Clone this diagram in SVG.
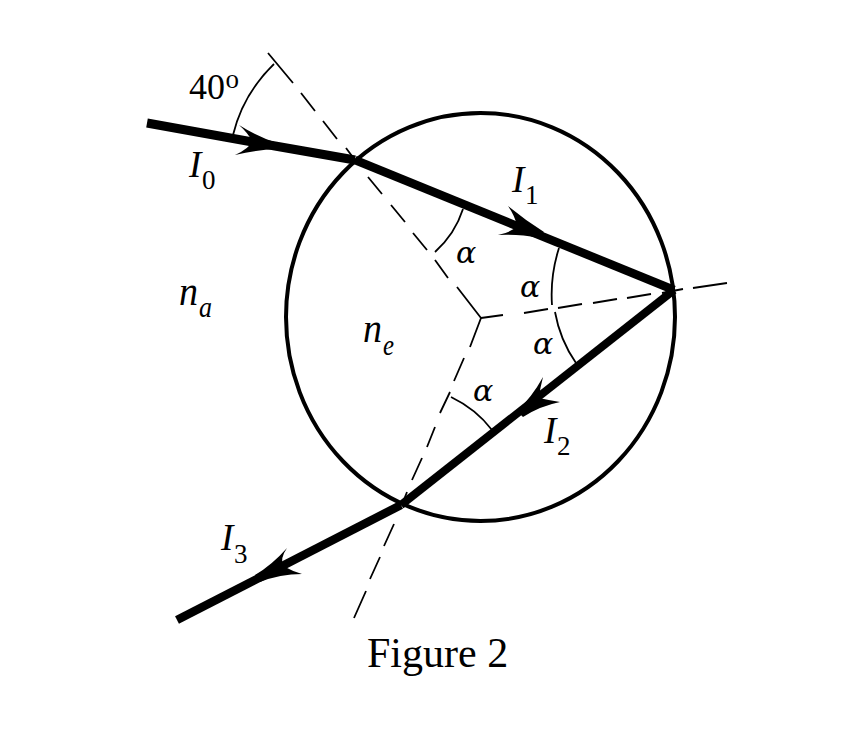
<svg xmlns="http://www.w3.org/2000/svg" width="850" height="744" viewBox="0 0 850 744">
<style>
text{font-family:"Liberation Serif","Times New Roman",serif;fill:#000}
.i{font-style:italic}
.a{font-family:"DejaVu Serif","Liberation Serif",serif;font-style:italic;font-size:30px}
.thin{fill:none;stroke:#000;stroke-width:1.8}
.ray{fill:none;stroke:#000;stroke-linejoin:miter}
.head{fill:#000;stroke:none}
</style>
<rect width="850" height="744" fill="#fff"/>
<g id="sphere"><ellipse cx="480.5" cy="317" rx="194.5" ry="204" fill="none" stroke="#000" stroke-width="4"/></g>
<g id="connectors">
<path id="normal-1" class="thin" d="M268 53L293 83M301 93L315 111M323 121L337 139M346 148L355 160M368 177L382 194M391 205L405 222M413 233L427 250M435 260L448 278M457 287L481 318"/>
<path id="normal-2" class="thin" d="M481 318L503 315M524 313L548 309M558 308L582 304M593 303L617 299M627 298L651 294M662 293L683 289M693 288L727 283"/>
<path id="normal-3" class="thin" d="M481 318L470 347M464 358L454 381M450 392L440 413M435 427L427 447M422 458L412 480M407 492L403 502M394 524L384 546M380 557L370 579M366 591L354 618"/>
<path id="arc-40" class="thin" d="M233 135Q243 94 274 64"/>
<path id="arc-a1" class="thin" d="M463 209Q455 234 435 252"/>
<path id="arc-a2" class="thin" d="M559 248Q550 276 552 305"/>
<path id="arc-a3" class="thin" d="M555 312Q560 340 576 363"/>
<path id="arc-a4" class="thin" d="M451 397Q476 409 492 430"/>
<path id="ray-0" class="ray" stroke-width="9" d="M147 123L275 146L355 160"/>
<path id="ray-1" class="ray" stroke-width="8.5" d="M355 160L674 290"/>
<path id="ray-2" class="ray" stroke-width="8" d="M674 290L401 505"/>
<path id="ray-3" class="ray" stroke-width="8.5" d="M401 505L177 620"/>
<path id="head-0" class="head" d="M239 125Q258 137 277 143L277 149Q256 150 235 155Q250 148 252 141Q248 133 239 125Z"/>
<path id="head-1" class="head" d="M508 206Q525 220 544 232L538 238Q520 234 498 235Q512 232 517 226Q515 216 508 206Z"/>
<path id="head-2" class="head" d="M543 377Q540 388 539 398Q548 400 560 402Q540 406 523 417L517 411Q532 397 543 377Z"/>
<path id="head-3" class="head" d="M287 548Q280 558 283 566Q292 571 302 574Q280 574 260 582L255 575Q272 565 287 548Z"/>
</g>
<g id="label-40"><text x="189" y="99" font-size="36">40</text><text x="225.5" y="88" font-size="27">o</text></g>
<g id="label-I0"><text class="i" x="189" y="177" font-size="37">I</text><text x="202" y="189" font-size="27">0</text></g>
<g id="label-I1"><text class="i" x="512" y="192" font-size="37">I</text><text x="525" y="204" font-size="27">1</text></g>
<g id="label-I2"><text class="i" x="544" y="443" font-size="37">I</text><text x="557" y="455" font-size="27">2</text></g>
<g id="label-I3"><text class="i" x="221" y="550" font-size="37">I</text><text x="234" y="563" font-size="27">3</text></g>
<g id="label-na"><text class="i" x="179" y="305" font-size="40" textLength="19" lengthAdjust="spacingAndGlyphs">n</text><text class="i" x="199" y="317" font-size="30" textLength="13" lengthAdjust="spacingAndGlyphs">a</text></g>
<g id="label-ne"><text class="i" x="363" y="342" font-size="40" textLength="19" lengthAdjust="spacingAndGlyphs">n</text><text class="i" x="383" y="355" font-size="30" textLength="11" lengthAdjust="spacingAndGlyphs">e</text></g>
<g id="alpha-1"><text class="a" x="456" y="263">α</text></g>
<g id="alpha-2"><text class="a" x="520" y="297">α</text></g>
<g id="alpha-3"><text class="a" x="533" y="354">α</text></g>
<g id="alpha-4"><text class="a" x="473" y="401">α</text></g>
<g id="caption"><text x="367" y="667" font-size="42">Figure 2</text></g>
</svg>
